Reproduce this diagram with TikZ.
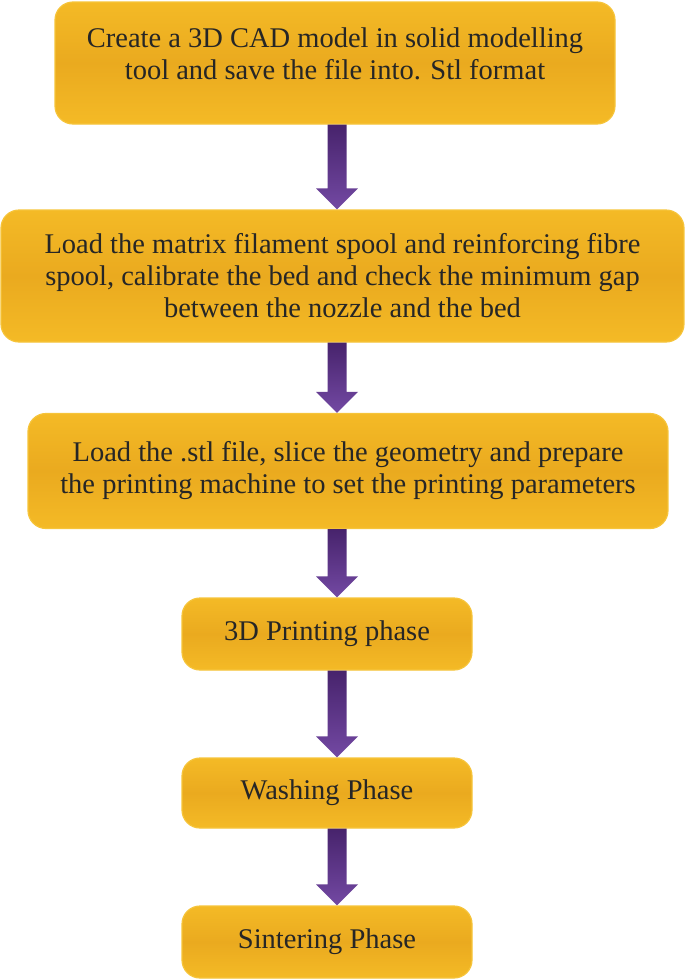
\documentclass[tikz,border=0pt]{standalone}
\usepackage{fontspec}
\setmainfont{Liberation Serif}
\usetikzlibrary{calc}
\definecolor{boxgold}{HTML}{EAAA1F}
\definecolor{boxlight}{HTML}{F4BA26}
\definecolor{boxedge}{HTML}{F6C43A}
\definecolor{txtdark}{HTML}{262626}
\definecolor{arrtop}{HTML}{47236C}
\definecolor{arrbot}{HTML}{7349A3}
\tikzset{
  stepbox/.style={rounded corners=18pt, draw=boxedge, line width=1.2pt,
    top color=boxlight, bottom color=boxlight, middle color=boxgold,
    inner sep=0pt, align=center, text=txtdark,
    font=\fontsize{28.5}{32}\selectfont},
  arrshade/.style={top color=arrtop, bottom color=arrbot, draw=none}
}
\newcommand\flowarr[2]{%
  \path[arrshade] let \p1=(#1.south), \p2=(#2.north) in
    ({327.5pt},{\y1}) -- ({346.5pt},{\y1}) -- ({346.5pt},{\y2+21pt})
    -- ({358pt},{\y2+21pt}) -- ({337pt},{\y2}) -- ({316pt},{\y2+21pt})
    -- ({327.5pt},{\y2+21pt}) -- cycle;}
\begin{document}
\begin{tikzpicture}[x=1pt,y=-1pt]
\useasboundingbox (0,0) rectangle (685,980);
\node[stepbox, minimum width=560pt, minimum height=122pt] (b1) at (335,63)
  {\raisebox{0pt}[0pt][0pt]{\begin{tabular}{@{}c@{}}Create a 3D CAD model in solid modelling\\tool and save the file into. Stl format\end{tabular}}};
\node[stepbox, minimum width=683pt, minimum height=132pt] (b2) at (342.5,276)
  {Load the matrix filament spool and reinforcing fibre\\spool, calibrate the bed and check the minimum gap\\between the nozzle and the bed};
\node[stepbox, minimum width=640pt, minimum height=115pt] (b3) at (348,471)
  {Load the .stl file, slice the geometry and prepare\\the printing machine to set the printing parameters};
\node[stepbox, minimum width=290pt, minimum height=72pt] (b4) at (327,634) {3D Printing phase};
\node[stepbox, minimum width=290pt, minimum height=70pt] (b5) at (327,793) {Washing Phase};
\node[stepbox, minimum width=290pt, minimum height=72pt] (b6) at (327,942) {Sintering Phase};
\flowarr{b1}{b2}
\flowarr{b2}{b3}
\flowarr{b3}{b4}
\flowarr{b4}{b5}
\flowarr{b5}{b6}
\end{tikzpicture}
\end{document}
